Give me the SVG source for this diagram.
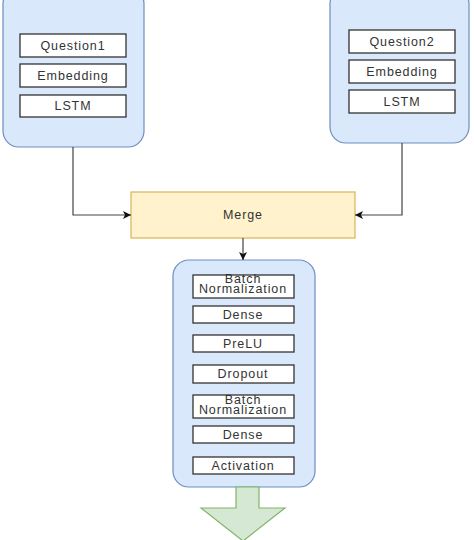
<svg xmlns="http://www.w3.org/2000/svg" width="474" height="540" viewBox="0 0 474 540">
<defs>
<style>
.cont{fill:#dae8fc;stroke:#6c8ebf;stroke-width:1.2}
.box{fill:#ffffff;stroke:#333333;stroke-width:1.3}
.t{font-family:"Liberation Sans",Arial,sans-serif;font-size:12.5px;fill:#333333;text-anchor:middle;letter-spacing:0.9px}
.ln{fill:none;stroke:#444444;stroke-width:1.2}
</style>
<marker id="ah" viewBox="0 0 10 10" refX="10" refY="5" markerWidth="8" markerHeight="8" markerUnits="userSpaceOnUse" orient="auto">
<path d="M0,0 L10,5 L0,10 L2.5,5 Z" fill="#111111"/>
</marker>
</defs>
<rect width="474" height="540" fill="#ffffff"/>
<g id="left-branch">
<rect class="cont" x="3" y="-12" width="141" height="159" rx="16"/>
<g id="question1"><rect class="box" x="20" y="34" width="106" height="23"/><text class="t" x="73" y="50">Question1</text></g>
<g id="embedding1"><rect class="box" x="20" y="64" width="106" height="23"/><text class="t" x="73" y="80">Embedding</text></g>
<g id="lstm1"><rect class="box" x="20" y="95" width="106" height="22"/><text class="t" x="73" y="110">LSTM</text></g>
</g>
<g id="right-branch">
<rect class="cont" x="330" y="-12" width="139" height="155" rx="16"/>
<g id="question2"><rect class="box" x="349" y="30" width="106" height="23"/><text class="t" x="402" y="46">Question2</text></g>
<g id="embedding2"><rect class="box" x="349" y="60" width="106" height="23"/><text class="t" x="402" y="76">Embedding</text></g>
<g id="lstm2"><rect class="box" x="349" y="90" width="106" height="23"/><text class="t" x="402" y="106">LSTM</text></g>
</g>
<g id="merge">
<rect x="131" y="192" width="224" height="46" fill="#fff2cc" stroke="#d6b656" stroke-width="1.2"/>
<text class="t" x="243" y="219">Merge</text>
</g>
<g id="dense-block">
<rect class="cont" x="173" y="260" width="142" height="227" rx="16"/>
<g id="batchnorm1"><rect class="box" x="193" y="275" width="101" height="23"/><text class="t" x="243" y="283">Batch</text><text class="t" x="243" y="293">Normalization</text></g>
<g id="dense1"><rect class="box" x="193" y="306" width="101" height="17"/><text class="t" x="243" y="319">Dense</text></g>
<g id="prelu"><rect class="box" x="193" y="335" width="101" height="17"/><text class="t" x="243" y="348">PreLU</text></g>
<g id="dropout"><rect class="box" x="193" y="365" width="101" height="18"/><text class="t" x="243" y="378">Dropout</text></g>
<g id="batchnorm2"><rect class="box" x="193" y="395" width="101" height="23"/><text class="t" x="243" y="404">Batch</text><text class="t" x="243" y="414">Normalization</text></g>
<g id="dense2"><rect class="box" x="193" y="426" width="101" height="17"/><text class="t" x="243" y="439">Dense</text></g>
<g id="activation"><rect class="box" x="193" y="457" width="101" height="17"/><text class="t" x="243" y="470">Activation</text></g>
</g>
<g id="output-arrow">
<path d="M236,487 L259,487 L259,508 L285,508 L243,541 L201,508 L236,508 Z" fill="#d5e8d4" stroke="#82b366" stroke-width="1.2"/>
</g>
<g id="connectors">
<path class="ln" d="M73,147 L73,215 L131,215" marker-end="url(#ah)"/>
<path class="ln" d="M402,143 L402,215 L355,215" marker-end="url(#ah)"/>
<path class="ln" d="M243,238 L243,260" marker-end="url(#ah)"/>
</g>
</svg>
